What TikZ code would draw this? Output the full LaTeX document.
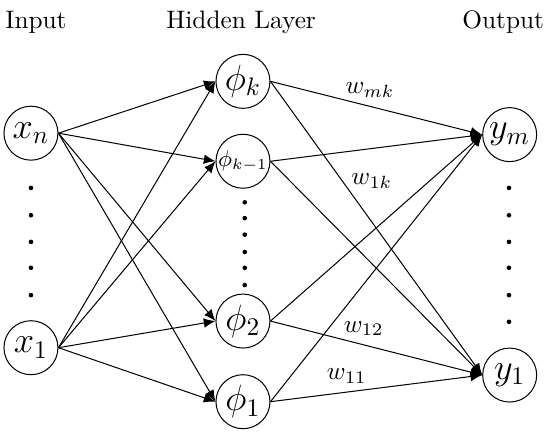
\documentclass[tikz,border=0pt]{standalone}
\usetikzlibrary{arrows.meta}

\begin{document}
\begin{tikzpicture}[neuron/.style={draw, circle, minimum size=0.75cm, inner sep=0pt},
  link/.style={draw, -{Latex[length=4.6pt, width=3.8pt]}}]
\useasboundingbox (0,0) rectangle (7.64,6.0);

\node[anchor=base] (input) at (0.50,5.61) {Input};
\node[anchor=base] (hidden) at (3.35,5.61) {Hidden Layer};
\node[anchor=base] (output) at (6.99,5.61) {Output};

\node[neuron] (xn) at (0.43,4.15) {\Large $x_n$};
\node[neuron] (x1) at (0.43,1.17) {\Large $x_1$};

\node[neuron] (hk) at (3.375,4.87) {\Large $\phi_k$};
\node[neuron] (hkm) at (3.375,3.76) {\small $\phi_{k-1}$};
\node[neuron] (h2) at (3.375,1.54) {\Large $\phi_2$};
\node[neuron] (h1) at (3.375,0.42) {\Large $\phi_1$};

\node[neuron] (ym) at (7.08,4.13) {\Large $y_m$};
\node[neuron] (y1) at (7.08,0.79) {\Large $y_1$};

% dots
\fill (0.43,3.39) circle (0.032);
\fill (0.43,3.01) circle (0.032);
\fill (0.43,2.64) circle (0.032);
\fill (0.43,2.28) circle (0.032);
\fill (0.43,1.90) circle (0.032);

\fill (3.40,3.19) circle (0.032);
\fill (3.40,2.97) circle (0.032);
\fill (3.40,2.74) circle (0.032);
\fill (3.40,2.50) circle (0.032);
\fill (3.40,2.28) circle (0.032);
\fill (3.40,2.04) circle (0.032);

\fill (7.07,3.39) circle (0.032);
\fill (7.07,3.01) circle (0.032);
\fill (7.07,2.64) circle (0.032);
\fill (7.07,2.28) circle (0.032);
\fill (7.07,1.90) circle (0.032);
\fill (7.07,1.53) circle (0.032);

% input to hidden
\path[link] (xn.east) -- (hk.west);
\path[link] (xn.east) -- (hkm.west);
\path[link] (xn.east) -- (h2.west);
\path[link] (xn.east) -- (h1.west);
\path[link] (x1.east) -- (hk.west);
\path[link] (x1.east) -- (hkm.west);
\path[link] (x1.east) -- (h2.west);
\path[link] (x1.east) -- (h1.west);

% hidden to output
\path[link] (hk.east) -- node[pos=0.47, above] {$w_{mk}$} (ym.west);
\path[link] (hk.east) -- node[pos=0.34, right] {$w_{1k}$} (y1.west);
\path[link] (hkm.east) -- (ym.west);
\path[link] (hkm.east) -- (y1.west);
\path[link] (h2.east) -- (ym.west);
\path[link] (h2.east) -- node[pos=0.44, above] {$w_{12}$} (y1.west);
\path[link] (h1.east) -- (ym.west);
\path[link] (h1.east) -- node[pos=0.36, above] {$w_{11}$} (y1.west);
\end{tikzpicture}
\end{document}
